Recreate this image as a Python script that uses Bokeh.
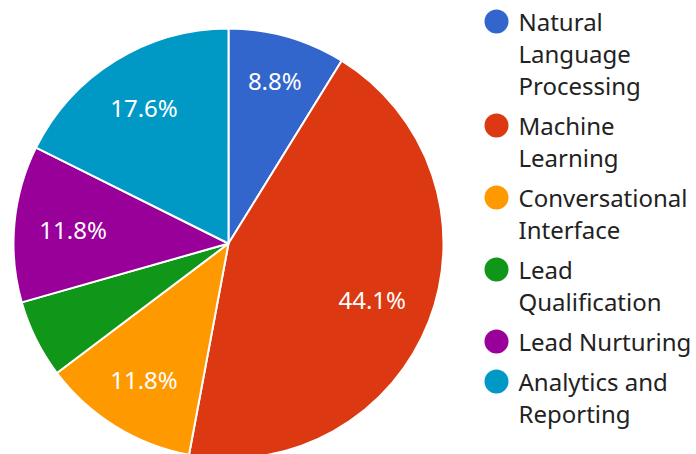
import math
from bokeh.plotting import figure
from bokeh.models import Range1d, ColumnDataSource
from bokeh.core.properties import value
from bokeh.embed import file_html
from bokeh.resources import INLINE

# ---- data ----
categories = ["Natural Language Processing", "Machine Learning", "Conversational Interface",
              "Lead Qualification", "Lead Nurturing", "Analytics and Reporting"]
counts = [3, 15, 4, 2, 4, 6]
colors = ["#3366cc", "#dc3912", "#ff9900", "#109618", "#990099", "#0099c6"]

# ---- layout ----
W, H = 696, 454
FONT = "Noto Sans"
FS = 24
cx, cy, r = 228, H - 243, 215

p = figure(width=W, height=H, x_range=Range1d(0, W), y_range=Range1d(0, H),
           output_backend="svg", toolbar_location=None,
           x_axis_type=None, y_axis_type=None,
           min_border=0, min_border_left=0, min_border_right=0,
           min_border_top=0, min_border_bottom=0)
p.grid.visible = False
p.outline_line_color = None
p.background_fill_color = "white"
p.border_fill_color = "white"

total = float(sum(counts))
starts, ends, lx, ly, ltxt = [], [], [], [], []
char_w = {".": 0.266, "%": 0.826}
cum = 0.0
for c in counts:
    a0 = math.pi / 2 - 2 * math.pi * cum / total
    cum += c
    a1 = math.pi / 2 - 2 * math.pi * cum / total
    starts.append(a0)
    ends.append(a1)
    pct = c / total * 100
    if pct >= 7:
        t = f"{pct:.1f}%"
        w = sum(char_w.get(ch, 0.572) for ch in t) * FS
        h = 30
        mid = (a0 + a1) / 2
        dx, dy = math.cos(mid), math.sin(mid)
        dist = 191 - (abs(dx) * w / 2 + abs(dy) * h / 2)
        lx.append(cx + dist * dx)
        ly.append(cy + dist * dy)
        ltxt.append(t)

src = ColumnDataSource(dict(start=starts, end=ends, color=colors))
p.wedge(x=cx, y=cy, radius=r, start_angle="start", end_angle="end", direction="clock",
        fill_color="color", line_color="white", line_width=2, source=src)

p.text(x=lx, y=ly, text=ltxt, text_color="white", text_font=value(FONT),
       text_font_size=f"{FS}px", text_align="center", text_baseline="middle")

# ---- legend ----
def wrap(s, maxc=14):
    lines, cur = [], ""
    for wd in s.split():
        cand = (cur + " " + wd).strip()
        if len(cand) <= maxc or not cur:
            cur = cand
        else:
            lines.append(cur)
            cur = wd
    lines.append(cur)
    return lines

mx, my, mcol = [], [], []
tx, ty, tt = [], [], []
yline = 21  # top offset of first line centre
for cat, col in zip(categories, colors):
    lines = wrap(cat)
    mx.append(496)
    my.append(H - yline)
    mcol.append(col)
    for i, ln in enumerate(lines):
        tx.append(518)
        ty.append(H - (yline + 32 * i))
        tt.append(ln)
    yline += 32 * len(lines) + 8

p.scatter(x=mx, y=my, marker="circle", size=24, fill_color=mcol, line_color=None)
p.text(x=tx, y=ty, text=tt, text_color="#222222", text_font=value(FONT),
       text_font_size=f"{FS}px", text_align="left", text_baseline="middle")

open("out.html", "w").write(file_html(p, INLINE))
